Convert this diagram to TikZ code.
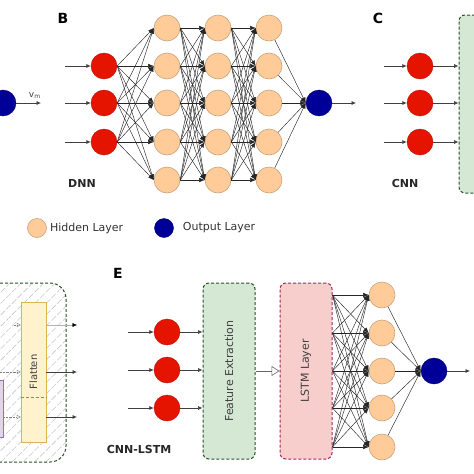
\documentclass[tikz,border=0pt]{standalone}
\usepackage{fontspec}
\setmainfont{DejaVu Sans}
\usetikzlibrary{arrows.meta,patterns.meta}

\definecolor{inred}{HTML}{E51400}
\definecolor{inredline}{HTML}{B81000}
\definecolor{hidfill}{HTML}{FFCC99}
\definecolor{hidline}{HTML}{C9A27C}
\definecolor{outblue}{HTML}{000099}
\definecolor{boxgreen}{HTML}{D5E8D4}
\definecolor{boxgreenline}{HTML}{2A4F2A}
\definecolor{boxpink}{HTML}{F8CECC}
\definecolor{boxpinkline}{HTML}{A3285E}
\definecolor{flatfill}{HTML}{FFF2CC}
\definecolor{flatline}{HTML}{D6B656}
\definecolor{convfill}{HTML}{E1D5E7}
\definecolor{convline}{HTML}{9673A6}

\tikzset{
  neuron/.style={circle, minimum size=26pt, inner sep=0pt},
  innode/.style={neuron, fill=inred, draw=inredline, line width=0.4pt},
  hidnode/.style={neuron, fill=hidfill, draw=hidline, line width=0.6pt},
  outnode/.style={neuron, fill=outblue, draw=outblue!70!black, line width=0.4pt},
  link/.style={draw=black!85, line width=0.45pt, -{Latex[length=5.5pt,width=4.5pt]}},
  feed/.style={draw=black!75, line width=0.7pt, -{Latex[length=4.5pt,width=4pt]}},
  panel/.style={font=\bfseries\fontsize{14}{14}\selectfont},
  tag/.style={font=\bfseries\fontsize{11}{11}\selectfont, text=black!85},
  legtext/.style={font=\fontsize{11}{11}\selectfont, text=black!80, inner sep=1pt},
  dashline/.style={dash pattern=on 3pt off 2pt, line width=1pt},
  layerbox/.style={rounded corners=6pt, dashline, minimum width=52pt, minimum height=176pt, inner sep=0pt},
  boxtext/.style={rotate=90, font=\fontsize{11}{11}\selectfont, text=black!75},
}

\begin{document}
\begin{tikzpicture}[x=1pt, y=-1pt]
  \useasboundingbox (0,0) rectangle (474,474);
  \clip (0,0) rectangle (474,474);

  % A (cut off at the left)
  \node[outnode] (a_out) at (3,103) {};
  \coordinate (a_end) at (41,103);
  \draw[feed] (a_out.east) -- (a_end) node[pos=0.75, above=1pt, font=\fontsize{9}{9}\selectfont, text=black!75] {v\textsubscript{m}};

  % B: DNN
  \node[panel] (b_tag) at (63,18) {B};
  \foreach \i/\y in {1/66,2/103,3/142} {
    \node[innode] (b_in\i) at (104,\y) {};
    \coordinate (b_src\i) at (65,\y);
    \draw[feed] (b_src\i) -- (b_in\i.west);
  }
  \foreach \l/\x in {1/167,2/218,3/269}
    \foreach \j/\y in {1/28,2/66,3/103,4/142,5/180}
      \node[hidnode] (b_h\l-\j) at (\x,\y) {};
  \node[outnode] (b_out) at (319,103) {};
  \coordinate (b_end) at (356,103);
  \foreach \i in {1,2,3}
    \foreach \j in {1,...,5}
      \draw[link] (b_in\i.east) -- (b_h1-\j.west);
  \foreach \l/\m in {1/2,2/3}
    \foreach \i in {1,...,5}
      \foreach \j in {1,...,5}
        \draw[link] (b_h\l-\i.east) -- (b_h\m-\j.west);
  \foreach \i in {1,...,5}
    \draw[link] (b_h3-\i) -- (b_out.west);
  \draw[feed] (b_out.east) -- (b_end);
  \node[tag] (b_name) at (82,183) {DNN};

  % C: CNN
  \node[panel] (c_tag) at (378,18) {C};
  \node[layerbox, fill=boxgreen, draw=boxgreenline, minimum height=178pt] (c_feat) at (485,104) {};
  \foreach \i/\y in {1/66,2/103,3/142} {
    \node[innode] (c_in\i) at (420,\y) {};
    \coordinate (c_src\i) at (384,\y);
    \draw[feed] (c_src\i) -- (c_in\i.west);
    \draw[feed] (c_in\i.east) -- (c_in\i.east -| c_feat.west);
  }
  \node[tag] (c_name) at (405,183) {CNN};

  % legend
  \node[hidnode, minimum size=19pt] (leg_hid) at (37,228) {};
  \node[legtext, anchor=west] (leg_hid_txt) at ([xshift=2pt]leg_hid.east) {Hidden Layer};
  \node[outnode, minimum size=19pt] (leg_out) at (164,228) {};
  \node[legtext, anchor=west] (leg_out_txt) at ([xshift=8pt]leg_out.east) {Output Layer};

  % D (cut off at the left)
  \draw[dashline, draw=boxgreenline, rounded corners=16pt,
        pattern={Lines[angle=45,distance=8pt,line width=0.6pt]}, pattern color=black!22]
    (-30,283) -- (66,283) -- (66,462) -- (-30,462);
  \node[draw=convline, fill=convfill, minimum width=13pt, minimum height=57pt, inner sep=0pt] (d_conv) at (-3.5,408.5) {};
  \node[draw=flatline, fill=flatfill, minimum width=25pt, minimum height=140pt, inner sep=0pt] (d_flat) at (33.5,372) {};
  \node[boxtext, font=\fontsize{10}{10}\selectfont] (d_flat_txt) at (d_flat) {Flatten};
  \draw[red!65, densely dashed, line width=0.4pt] (d_flat.west |- 0,397) -- (d_flat.east |- 0,397);
  \foreach \i/\y/\s in {1/325/14,2/372/0,3/417/3} {
    \coordinate (d_src\i) at (\s,\y);
    \draw[densely dotted, black!50, line width=0.4pt, -{Triangle[open,length=4pt,width=4pt]}] (d_src\i) -- (d_src\i -| d_flat.west);
    \coordinate (d_end\i) at (77,\y);
  }
  \draw[black!30, line width=0.4pt, -{Latex[length=4.5pt,width=4pt,fill=black,color=black]}] (d_flat.east |- d_end1) -- (d_end1);
  \draw[feed] (d_flat.east |- d_end2) -- (d_end2);
  \draw[feed] (d_flat.east |- d_end3) -- (d_end3);

  % E: CNN-LSTM
  \node[panel] (e_tag) at (118,273) {E};
  \node[layerbox, fill=boxgreen, draw=boxgreenline] (e_feat) at (229,371) {};
  \node[boxtext] (e_feat_txt) at (e_feat) {Feature Extraction};
  \node[layerbox, fill=boxpink, draw=boxpinkline] (e_lstm) at (306,371) {};
  \node[boxtext] (e_lstm_txt) at (e_lstm) {LSTM Layer};
  \foreach \i/\y in {1/332,2/370,3/408} {
    \node[innode] (e_in\i) at (167,\y) {};
    \coordinate (e_src\i) at (128,\y);
    \draw[feed] (e_src\i) -- (e_in\i.west);
    \draw[feed] (e_in\i.east) -- (e_in\i.east -| e_feat.west);
  }
  \draw[black!60, line width=0.6pt, -{Triangle[open,length=8pt,width=10pt]}] (e_feat.east) -- (e_lstm.west);
  \foreach \j/\y in {1/295,2/333,3/371,4/408,5/447} {
    \node[hidnode] (e_h\j) at (382,\y) {};
    \coordinate (e_port\j) at (e_h\j -| e_lstm.east);
  }
  \foreach \i in {1,...,5}
    \foreach \j in {1,...,5}
      \draw[link] (e_port\i) -- (e_h\j.west);
  \node[outnode] (e_out) at (434,371) {};
  \coordinate (e_end) at (470,371);
  \foreach \j in {1,...,5}
    \draw[link] (e_h\j) -- (e_out.west);
  \draw[feed] (e_out.east) -- (e_end);
  \node[tag] (e_name) at (139,449) {CNN-LSTM};
\end{tikzpicture}
\end{document}
